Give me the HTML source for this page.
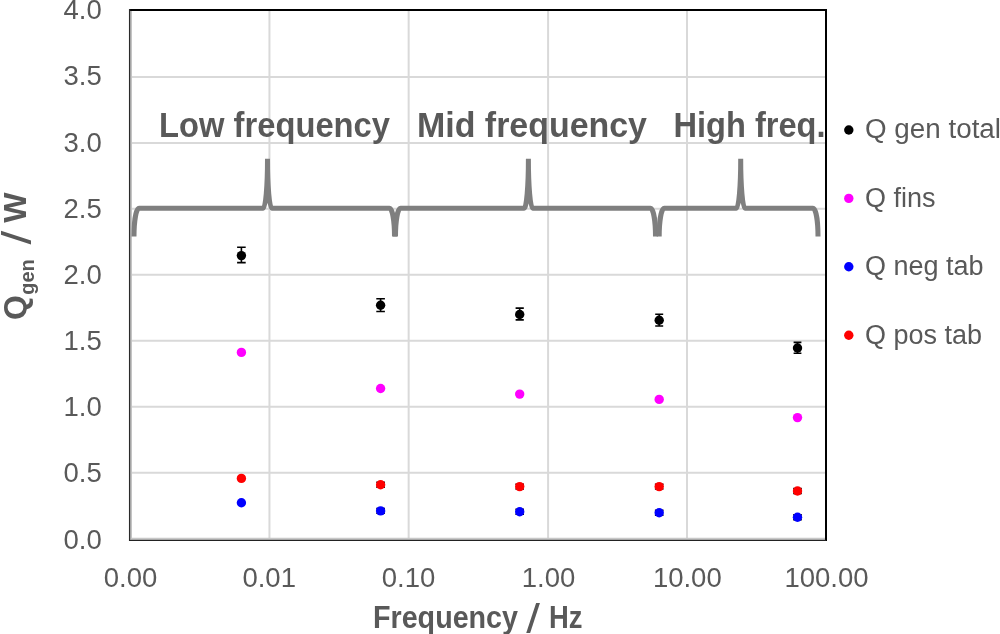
<!DOCTYPE html>
<html>
<head>
<meta charset="utf-8">
<style>
html,body{margin:0;padding:0;background:#fff;}
body{width:1000px;height:634px;overflow:hidden;}
svg{display:block;}
text{font-family:"Liberation Sans",Arial,sans-serif;fill:#595959;}
.b{font-weight:bold;}
</style>
</head>
<body>
<svg width="1000" height="634" viewBox="0 0 1000 634">
<rect x="0" y="0" width="1000" height="634" fill="#fff"/>

<g stroke="#d9d9d9" stroke-width="2" fill="none">
<line x1="131" y1="472.81" x2="825" y2="472.81"/>
<line x1="131" y1="406.83" x2="825" y2="406.83"/>
<line x1="131" y1="340.84" x2="825" y2="340.84"/>
<line x1="131" y1="274.86" x2="825" y2="274.86"/>
<line x1="131" y1="208.87" x2="825" y2="208.87"/>
<line x1="131" y1="142.89" x2="825" y2="142.89"/>
<line x1="131" y1="76.90" x2="825" y2="76.90"/>
<line x1="269.45" y1="11" x2="269.45" y2="539"/>
<line x1="408.65" y1="11" x2="408.65" y2="539"/>
<line x1="548.1" y1="11" x2="548.1" y2="539"/>
<line x1="687.0" y1="11" x2="687.0" y2="539"/>
</g>
<line x1="131" y1="538.8" x2="825" y2="538.8" stroke="#c8c8c8" stroke-width="2"/>
<line x1="131.1" y1="11" x2="131.1" y2="539" stroke="#c4c4c4" stroke-width="1.8"/>
<line x1="129" y1="10.1" x2="827" y2="10.1" stroke="#000" stroke-width="2"/>
<line x1="826" y1="9.1" x2="826" y2="541" stroke="#000" stroke-width="2"/>
<line x1="129.6" y1="9.1" x2="129.6" y2="541" stroke="#2a2a2a" stroke-width="1.3"/>
<line x1="129" y1="540.4" x2="826" y2="540.4" stroke="#222" stroke-width="1.2"/>

<g font-size="27.5" text-anchor="end">
<text x="101.8" y="548.50">0.0</text>
<text x="101.8" y="482.35">0.5</text>
<text x="101.8" y="416.20">1.0</text>
<text x="101.8" y="350.05">1.5</text>
<text x="101.8" y="283.90">2.0</text>
<text x="101.8" y="217.75">2.5</text>
<text x="101.8" y="151.60">3.0</text>
<text x="101.8" y="85.45">3.5</text>
<text x="101.8" y="19.30">4.0</text>
</g>
<g font-size="27.5" text-anchor="middle">
<text x="130.5" y="587.4">0.00</text>
<text x="269.2" y="587.4">0.01</text>
<text x="408.5" y="587.4">0.10</text>
<text x="548.5" y="587.4">1.00</text>
<text x="687.3" y="587.4">10.00</text>
<text x="826.5" y="587.4">100.00</text>
</g>
<g class="b" font-size="32"><text x="373" y="628" textLength="145" lengthAdjust="spacingAndGlyphs">Frequency</text><text font-weight="normal" font-size="41" transform="translate(526.2,632.6) scale(1.2,1)">/</text><text x="549" y="628" textLength="33.5" lengthAdjust="spacingAndGlyphs">Hz</text></g>
<g class="b" fill="#595959">
<text font-size="32" transform="translate(26.4,320) rotate(-90)">Q</text>
<text font-size="21" transform="translate(33.7,294.8) rotate(-90)" textLength="35.5" lengthAdjust="spacingAndGlyphs">gen</text>
<text font-size="41" font-weight="normal" transform="translate(30.6,244.6) rotate(-90) scale(1.2,1)">/</text>
<text font-size="32" transform="translate(26.4,222.8) rotate(-90)">W</text>
</g>
<g class="b" font-size="34.6">
<text x="159.0" y="136.7" textLength="231.0" lengthAdjust="spacingAndGlyphs">Low frequency</text>
<text x="417.0" y="136.7" textLength="230.0" lengthAdjust="spacingAndGlyphs">Mid frequency</text>
<text x="673.5" y="136.7" textLength="152.0" lengthAdjust="spacingAndGlyphs">High freq.</text>
</g>
<g stroke="#7f7f7f" stroke-width="5" fill="none">
<path d="M134,236.4 A5,28.10 0 0 1 139,208.3 H263.3 A4.2,49.50 0 0 0 267.5,158.8 A4.2,49.50 0 0 0 271.7,208.3 H389.5 A5,28.10 0 0 1 394.5,236.4"/>
<path d="M395.5,236.4 A5,28.10 0 0 1 400.5,208.3 H524.1999999999999 A4.2,49.50 0 0 0 528.4,158.8 A4.2,49.50 0 0 0 532.6,208.3 H650.5 A5,28.10 0 0 1 655.5,236.4"/>
<path d="M659.2,236.4 A5,28.10 0 0 1 664.2,208.3 H736.5 A4.2,49.50 0 0 0 740.7,158.8 A4.2,49.50 0 0 0 744.9000000000001,208.3 H813 A5,28.10 0 0 1 818,236.4"/>
</g>
<g stroke="#000" stroke-width="1.6" fill="none">
<path d="M241.4,247.3V262.6 M237.1,247.3H245.7 M237.1,262.6H245.7"/>
<path d="M380.6,298.8V311.5 M376.3,298.8H384.9 M376.3,311.5H384.9"/>
<path d="M519.7,308.1V319.9 M515.6,308.1H523.8 M515.6,319.9H523.8"/>
<path d="M659.2,314.2V326 M655.2,314.2H663.2 M655.2,326H663.2"/>
<path d="M797.5,342.4V353.2 M793.6,342.4H801.4 M793.6,353.2H801.4"/>
<path d="M376.3,482.3H384.9 M376.3,487.1H384.9"/>
<path d="M376.3,508.5H384.9 M376.3,513.3H384.9"/>
<path d="M515.4,484.2H524.0 M515.4,489.0H524.0"/>
<path d="M515.4,509.4H524.0 M515.4,514.2H524.0"/>
<path d="M654.9,484.2H663.5 M654.9,489.0H663.5"/>
<path d="M654.9,510.4H663.5 M654.9,515.2H663.5"/>
<path d="M793.2,488.6H801.8 M793.2,493.4H801.8"/>
<path d="M793.2,514.9H801.8 M793.2,519.7H801.8"/>
</g>
<g fill="#000">
<circle cx="241.4" cy="255.6" r="4.7"/>
<circle cx="380.6" cy="305.2" r="4.7"/>
<circle cx="519.7" cy="314.5" r="4.7"/>
<circle cx="659.2" cy="320.3" r="4.7"/>
<circle cx="797.5" cy="348" r="4.7"/>
</g>
<g fill="#ff00ff">
<circle cx="241.4" cy="352.4" r="4.7"/>
<circle cx="380.6" cy="388.5" r="4.7"/>
<circle cx="519.7" cy="394.1" r="4.7"/>
<circle cx="659.2" cy="399.4" r="4.7"/>
<circle cx="797.5" cy="417.6" r="4.7"/>
</g>
<g fill="#ff0000">
<circle cx="241.4" cy="478.4" r="4.7"/>
<circle cx="380.6" cy="484.7" r="4.7"/>
<circle cx="519.7" cy="486.6" r="4.7"/>
<circle cx="659.2" cy="486.6" r="4.7"/>
<circle cx="797.5" cy="491" r="4.7"/>
</g>
<g fill="#0000ff">
<circle cx="241.4" cy="502.8" r="4.7"/>
<circle cx="380.6" cy="510.9" r="4.7"/>
<circle cx="519.7" cy="511.8" r="4.7"/>
<circle cx="659.2" cy="512.8" r="4.7"/>
<circle cx="797.5" cy="517.3" r="4.7"/>
</g>
<circle cx="848.8" cy="130" r="4.7" fill="#000"/>
<text x="865.0" y="138.4" font-size="27" textLength="136" lengthAdjust="spacingAndGlyphs">Q gen total</text>
<circle cx="848.8" cy="198.4" r="4.7" fill="#ff00ff"/>
<text x="865.0" y="206.8" font-size="27">Q fins</text>
<circle cx="848.8" cy="266.7" r="4.7" fill="#0000ff"/>
<text x="865.0" y="275.1" font-size="27">Q neg tab</text>
<circle cx="848.8" cy="335.3" r="4.7" fill="#ff0000"/>
<text x="865.0" y="343.7" font-size="27">Q pos tab</text>
</svg>
</body>
</html>
